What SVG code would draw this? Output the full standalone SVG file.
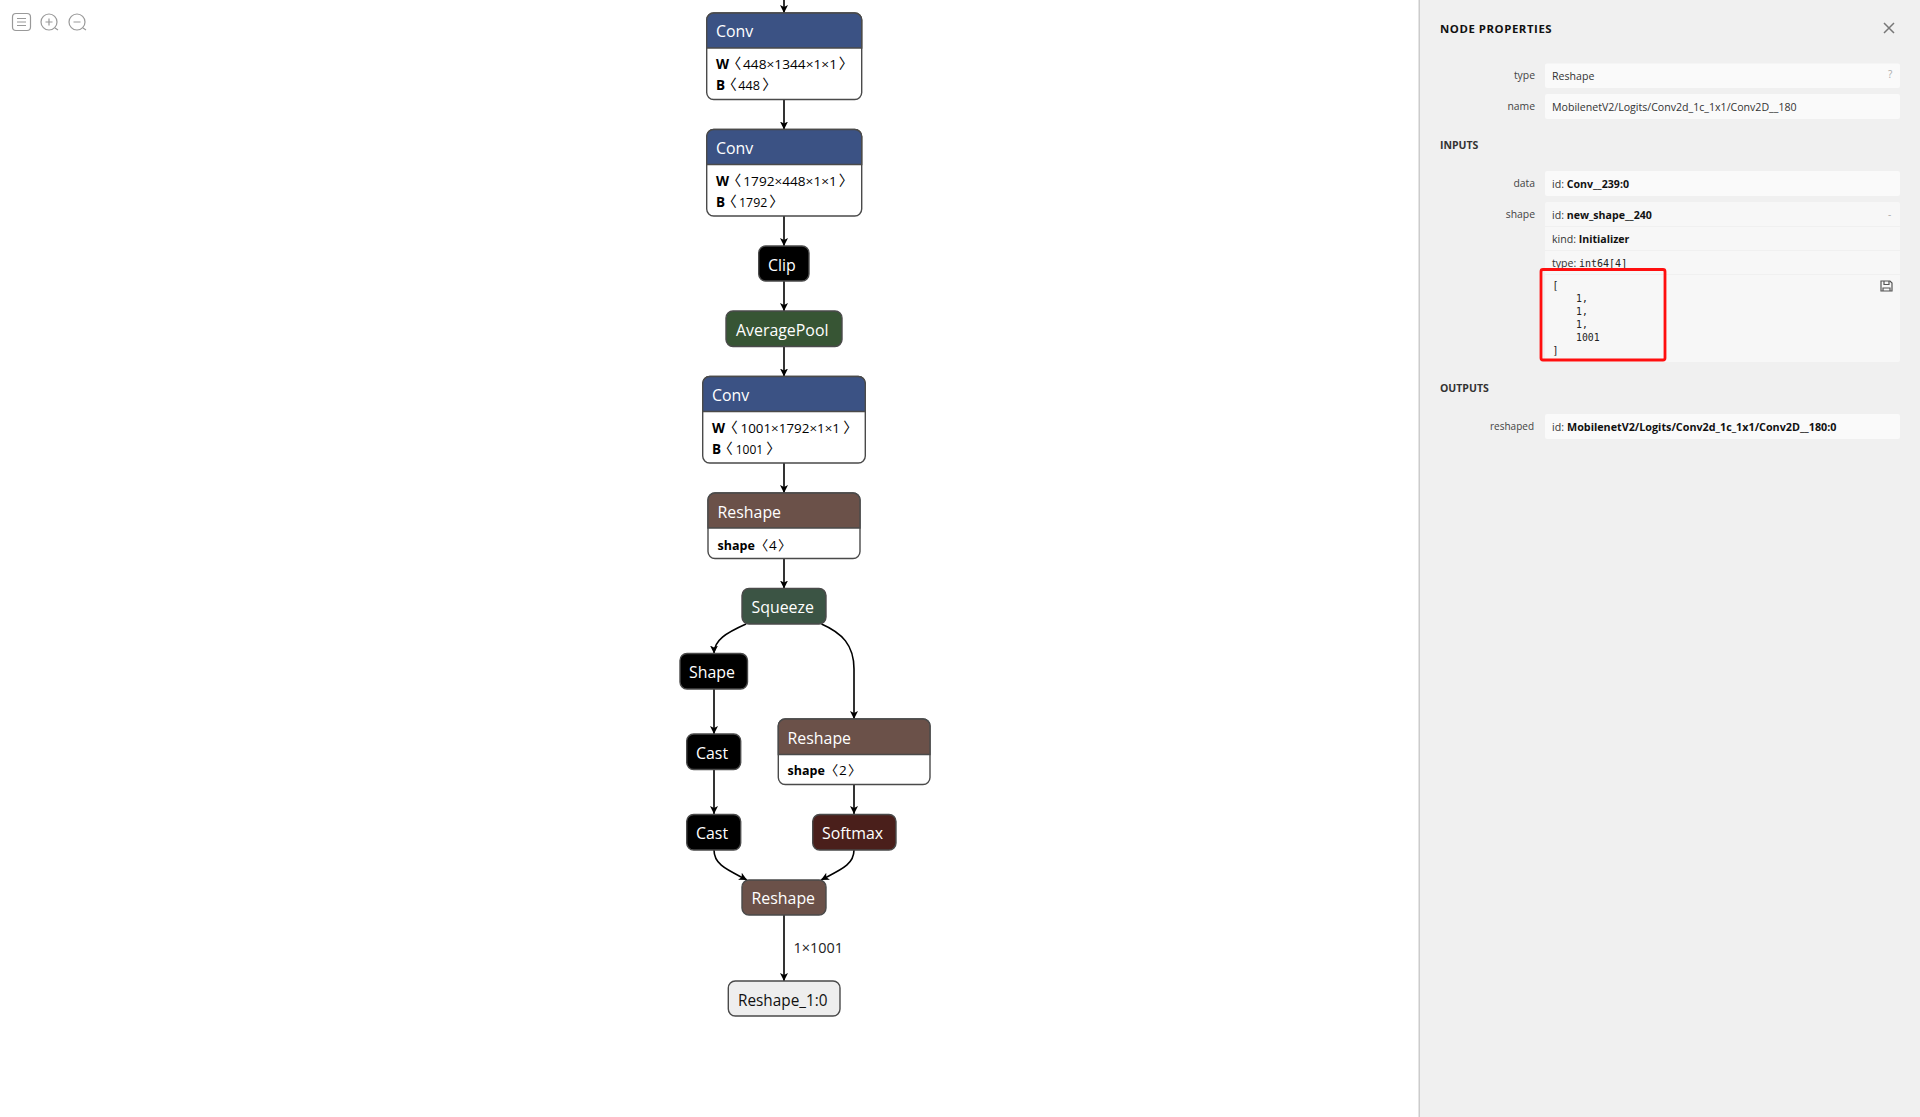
<svg xmlns="http://www.w3.org/2000/svg" width="1920" height="1117" viewBox="0 0 1920 1117">
<style>
text{font-family:"Open Sans","Noto Sans","Liberation Sans",sans-serif}
.box{stroke:#4a4a4a;stroke-width:1.4}
.h{fill:#fff;font-size:15.900px}
.a{fill:#000;font-size:13.500px}
.b{font-weight:700;font-size:13.500px}
.s{font-weight:700;font-size:12.500px}
.k{font-family:"Noto Sans CJK SC","Noto Sans",sans-serif;font-size:14.500px;fill:#000}
.k2{font-family:"Noto Sans CJK SC","Noto Sans",sans-serif;font-size:13.500px;fill:#000}
.e{fill:none;stroke:#000;stroke-width:1.6;marker-end:url(#ah)}
.lbl{font-size:10.400px;fill:#444;text-anchor:end}
.val{font-size:10.600px;fill:#333}
.vb{font-weight:700;fill:#111}
.row{fill:#fafafa}
.sec{font-size:10.500px;font-weight:700;fill:#333}
.mono{font-family:"DejaVu Sans Mono","Liberation Mono",monospace;font-size:9.800px;fill:#222}
.ic{fill:none;stroke:#999;stroke-width:1.2}
</style>
<defs>
<marker id="ah" markerUnits="userSpaceOnUse" markerWidth="10" markerHeight="10" refX="8" refY="4.5" orient="auto"><path d="M0 0.5L8 4.5L0 8.5L2 4.5Z" fill="#000"/></marker>
</defs>
<rect width="1920" height="1117" fill="#fff"/>
<g id="toolbar">
<rect class="ic" x="12.500" y="13.500" width="18" height="17" rx="3.500"/>
<path class="ic" d="M17 18.500h9M17 22h9M17 25.500h9"/>
<circle class="ic" cx="49" cy="22" r="8"/><path class="ic" d="M45.500 22h7M49 18.500v7M55 28l3 2"/>
<circle class="ic" cx="77" cy="22" r="8"/><path class="ic" d="M73.500 22h7M83 28l3 2"/>
</g>
<g id="connectors">
<path class="e" d="M784 0V13"/>
<path class="e" d="M784 99V129.500"/>
<path class="e" d="M784 216V246"/>
<path class="e" d="M784 281V311"/>
<path class="e" d="M784 347V376.500"/>
<path class="e" d="M784 463V493"/>
<path class="e" d="M784 559V588.500"/>
<path class="e" d="M746 624C726 633 714 640 714 653.500"/>
<path class="e" d="M821.500 624C842 633 854 645 854 669V719"/>
<path class="e" d="M714 689V734"/>
<path class="e" d="M714 769.500V814"/>
<path class="e" d="M854 784.500V814"/>
<path class="e" d="M714 850C714 865 728 870 747 880"/>
<path class="e" d="M854 850C854 865 840 870 821 880"/>
<path class="e" d="M784 915V981"/>
</g>
<g id="n_conv1">
<rect class="box" x="706.700" y="13" width="155" height="86.500" rx="7" fill="#fff"/>
<path d="M706.700 48V20a7 7 0 0 1 7-7h141a7 7 0 0 1 7 7V48Z" fill="#3b5284" class="box"/>
<text class="h" x="716" y="36.500">Conv</text>
<text class="a" x="716" y="69"><tspan class="b">W</tspan><tspan class="k" x="726.800">〈</tspan><tspan x="743" textLength="94" lengthAdjust="spacingAndGlyphs">448×1344×1×1</tspan><tspan class="k" x="838.700">〉</tspan></text>
<text class="a" x="716" y="90"><tspan class="b">B</tspan><tspan class="k" x="722.300">〈</tspan><tspan x="738.300" textLength="21.700" lengthAdjust="spacingAndGlyphs">448</tspan><tspan class="k" x="762.200">〉</tspan></text>
</g>
<g id="n_conv2">
<rect class="box" x="706.700" y="129.500" width="155" height="86.500" rx="7" fill="#fff"/>
<path d="M706.700 164.500V136.500a7 7 0 0 1 7-7h141a7 7 0 0 1 7 7V164.500Z" fill="#3b5284" class="box"/>
<text class="h" x="716" y="153.700">Conv</text>
<text class="a" x="716" y="185.500"><tspan class="b">W</tspan><tspan class="k" x="726.800">〈</tspan><tspan x="743.300" textLength="93.500" lengthAdjust="spacingAndGlyphs">1792×448×1×1</tspan><tspan class="k" x="838.700">〉</tspan></text>
<text class="a" x="716" y="206.500"><tspan class="b">B</tspan><tspan class="k" x="722.300">〈</tspan><tspan x="739" textLength="28.300" lengthAdjust="spacingAndGlyphs">1792</tspan><tspan class="k" x="769.200">〉</tspan></text>
</g>
<g id="n_clip">
<rect class="box" x="758.700" y="246" width="50.300" height="35" rx="7" fill="#000"/>
<text class="h" x="768" y="270.700">Clip</text>
</g>
<g id="n_avgpool">
<rect class="box" x="726" y="311" width="116" height="35.500" rx="7" fill="#375534"/>
<text class="h" x="736" y="335.700">AveragePool</text>
</g>
<g id="n_conv3">
<rect class="box" x="702.700" y="376.500" width="162.600" height="86.500" rx="7" fill="#fff"/>
<path d="M702.700 411.500V383.500a7 7 0 0 1 7-7h148.600a7 7 0 0 1 7 7V411.500Z" fill="#3b5284" class="box"/>
<text class="h" x="712" y="400.700">Conv</text>
<text class="a" x="712" y="432.500"><tspan class="b">W</tspan><tspan class="k" x="723.300">〈</tspan><tspan x="740.500" textLength="99.500" lengthAdjust="spacingAndGlyphs">1001×1792×1×1</tspan><tspan class="k" x="843.200">〉</tspan></text>
<text class="a" x="712" y="453.500"><tspan class="b">B</tspan><tspan class="k" x="718.300">〈</tspan><tspan x="735.700" textLength="27.500" lengthAdjust="spacingAndGlyphs">1001</tspan><tspan class="k" x="766.200">〉</tspan></text>
</g>
<g id="n_reshape1">
<rect class="box" x="708" y="493" width="152" height="65.500" rx="7" fill="#fff"/>
<path d="M708 528V500a7 7 0 0 1 7-7h138a7 7 0 0 1 7 7V528Z" fill="#6b5149" class="box"/>
<text class="h" x="717.500" y="517.700">Reshape</text>
<text class="a" x="717.500" y="549.500"><tspan class="s">shape</tspan><tspan class="k2" x="754.800">〈</tspan><tspan x="769">4</tspan><tspan class="k2" x="778">〉</tspan></text>
</g>
<g id="n_squeeze">
<rect class="box" x="742" y="588.500" width="84" height="35.500" rx="7" fill="#3b5444"/>
<text class="h" x="751.500" y="612.500">Squeeze</text>
</g>
<g id="n_shape">
<rect class="box" x="680" y="653.500" width="67.500" height="35.500" rx="7" fill="#000"/>
<text class="h" x="689" y="677.500">Shape</text>
</g>
<g id="n_cast1">
<rect class="box" x="686.700" y="734" width="54" height="35.500" rx="7" fill="#000"/>
<text class="h" x="696" y="758.700">Cast</text>
</g>
<g id="n_cast2">
<rect class="box" x="686.700" y="814.500" width="54" height="35.500" rx="7" fill="#000"/>
<text class="h" x="696" y="838.700">Cast</text>
</g>
<g id="n_reshape2">
<rect class="box" x="778.300" y="719" width="151.700" height="65.500" rx="7" fill="#fff"/>
<path d="M778.300 754.500V726a7 7 0 0 1 7-7h137.700a7 7 0 0 1 7 7V754.500Z" fill="#6b5149" class="box"/>
<text class="h" x="787.500" y="743.700">Reshape</text>
<text class="a" x="787.500" y="775"><tspan class="s">shape</tspan><tspan class="k2" x="824.800">〈</tspan><tspan x="839">2</tspan><tspan class="k2" x="848">〉</tspan></text>
</g>
<g id="n_softmax">
<rect class="box" x="812.700" y="814.500" width="83.300" height="35.500" rx="7" fill="#4a1f1b"/>
<text class="h" x="822" y="838.700">Softmax</text>
</g>
<g id="n_reshape3">
<rect class="box" x="742" y="880" width="84" height="35" rx="7" fill="#6b5149"/>
<text class="h" x="751.500" y="904">Reshape</text>
</g>
<g id="n_output">
<rect class="box" x="728.300" y="981" width="111.700" height="35" rx="7" fill="#eee"/>
<text class="h" x="738" y="1005.700" style="fill:#111" textLength="89.500" lengthAdjust="spacingAndGlyphs">Reshape_1:0</text>
</g>
<text id="edge_label" x="793.500" y="952.500" font-size="14" fill="#222" textLength="49.500" lengthAdjust="spacingAndGlyphs">1×1001</text>
<g id="panel">
<rect x="1419" y="0" width="501" height="1117" fill="#f0f0f0"/>
<rect x="1418.500" y="0" width="1.500" height="1117" fill="#ccc"/>
<text x="1440" y="32.500" style="font-size:11.400px;font-weight:700;fill:#111;letter-spacing:.55px">NODE PROPERTIES</text>
<path d="M1884 23l10 10M1894 23l-10 10" stroke="#777" stroke-width="1.500" fill="none"/>
<rect class="row" x="1545" y="63.500" width="355" height="24.500" rx="2"/>
<rect class="row" x="1545" y="94" width="355" height="25" rx="2"/>
<rect class="row" x="1545" y="171" width="355" height="25" rx="2"/>
<rect x="1545" y="202" width="355" height="160" rx="2" fill="#f7f7f7"/>
<path d="M1545 226.500h355M1545 250.500h355M1545 274.500h355" stroke="#f0f0f0" stroke-width="1"/>
<rect class="row" x="1545" y="414" width="355" height="25" rx="2"/>
<text class="lbl" x="1535" y="79">type</text>
<text class="val" x="1552" y="80">Reshape</text>
<text x="1888" y="78" style="font-size:10px;fill:#aaa">?</text>
<text class="lbl" x="1535" y="110">name</text>
<text class="val" x="1552" y="111">MobilenetV2/Logits/Conv2d_1c_1x1/Conv2D__180</text>
<text class="sec" x="1440" y="149">INPUTS</text>
<text class="lbl" x="1535" y="187">data</text>
<text class="val" x="1552" y="188">id: <tspan class="vb">Conv__239:0</tspan></text>
<text class="lbl" x="1535" y="218">shape</text>
<text class="val" x="1552" y="219">id: <tspan class="vb">new_shape__240</tspan></text>
<text x="1888" y="218" style="font-size:10px;fill:#aaa">-</text>
<text class="val" x="1552" y="243">kind: <tspan class="vb">Initializer</tspan></text>
<text class="val" x="1552" y="267">type: <tspan class="mono" x="1579" style="font-size:10px">int64[4]</tspan></text>
<text class="mono" x="1552.500" y="289">[</text>
<text class="mono" x="1576" y="302">1,</text>
<text class="mono" x="1576" y="315">1,</text>
<text class="mono" x="1576" y="328">1,</text>
<text class="mono" x="1576" y="341">1001</text>
<text class="mono" x="1552.500" y="354">]</text>
<g fill="none" stroke="#555" stroke-width="1.200"><path d="M1881 281h9l2 2v8h-11Z"/><path d="M1884 281v3.500h5V281M1883 291v-3h7v3"/></g>
<rect x="1541" y="269.500" width="124" height="90.500" rx="2" fill="none" stroke="#ff0f0f" stroke-width="2.800"/>
<text class="sec" x="1440" y="391.800">OUTPUTS</text>
<text class="lbl" x="1534" y="430" textLength="44" lengthAdjust="spacingAndGlyphs">reshaped</text>
<text class="val" x="1552" y="431">id: <tspan class="vb" x="1567" textLength="269.500" lengthAdjust="spacingAndGlyphs">MobilenetV2/Logits/Conv2d_1c_1x1/Conv2D__180:0</tspan></text>
</g>
</svg>
